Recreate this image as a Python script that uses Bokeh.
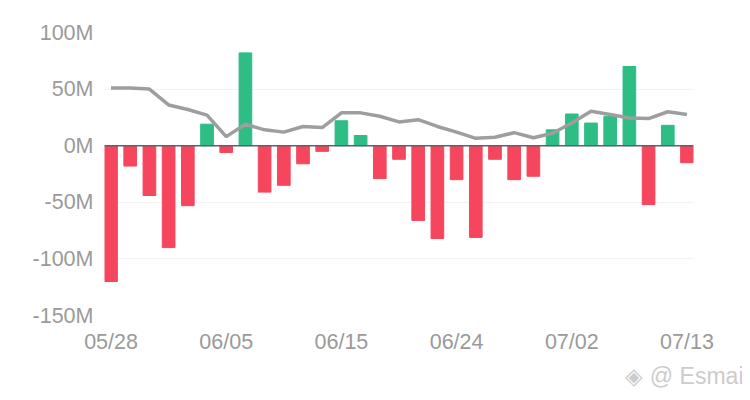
from bokeh.plotting import figure
from bokeh.models import ColumnDataSource, Span, Title, FixedTicker
from bokeh.embed import file_html
from bokeh.resources import INLINE

# ---- data (millions) ----
flows = [-120, -18, -44, -90, -53, 19, -6, 82, -41, -35, -16, -5, 22, 9, -29,
         -12, -66, -82, -30, -81, -12, -30, -27, 14, 28, 20, 26, 70, -52, 18, -15]
trend = [51, 51, 50, 36, 32, 27, 8, 19, 14, 12, 17, 16, 29, 29, 26,
         21, 23, 17, 12, 6.5, 7.5, 11.5, 7, 11, 20, 30.5, 27.5, 24.5, 24, 30, 27.5]
tick_pos = [0, 6, 12, 18, 24, 30]
tick_labels = ["05/28", "06/05", "06/15", "06/24", "07/02", "07/13"]
y_ticks = [-150, -100, -50, 0, 50, 100]
watermark = "◈ @ Esmai"

GREEN = "#2EBD85"
RED = "#F6465D"
FONT = "Liberation Sans"

idx = list(range(len(flows)))
src = ColumnDataSource(dict(
    x=idx, top=flows, bottom=[0] * len(flows),
    color=[GREEN if v >= 0 else RED for v in flows]))

p = figure(width=742, height=392, output_backend="svg", toolbar_location=None,
           x_range=(-0.34, len(flows) - 1 + 0.34), y_range=(-150, 100),
           min_border_left=104, min_border_right=49, min_border_top=32,
           min_border_bottom=77)
p.outline_line_color = None
p.background_fill_color = "white"

p.vbar(x="x", top="top", bottom="bottom", width=0.66, color="color", source=src)
p.line(idx, trend, line_color="#9e9e9e", line_width=3.5)
p.add_layout(Span(location=0, dimension="width", line_color="#5f6368", line_width=1.5))

p.xgrid.grid_line_color = None
p.ygrid.grid_line_color = "#f2f2f2"
p.ygrid.grid_line_width = 1

p.yaxis.ticker = FixedTicker(ticks=y_ticks)
p.yaxis.major_label_overrides = {v: f"{v}M" for v in y_ticks}
p.xaxis.ticker = FixedTicker(ticks=tick_pos)
p.xaxis.major_label_overrides = dict(zip(tick_pos, tick_labels))

for ax in (p.xaxis, p.yaxis):
    ax.axis_line_color = None
    ax.major_tick_line_color = None
    ax.minor_tick_line_color = None
    ax.major_tick_out = 0
    ax.major_tick_in = 0
    ax.major_label_text_color = "#9a9a9a"
    ax.major_label_text_font = FONT
    ax.major_label_text_font_size = "21.5px"
p.yaxis.major_label_standoff = 11
p.xaxis.major_label_standoff = 14

p.add_layout(Title(text=watermark, align="right", offset=-50, standoff=8,
                   text_color="#cccccc", text_font=FONT,
                   text_font_size="23px", text_font_style="normal"), "below")

open("out.html", "w").write(file_html(p, INLINE))
